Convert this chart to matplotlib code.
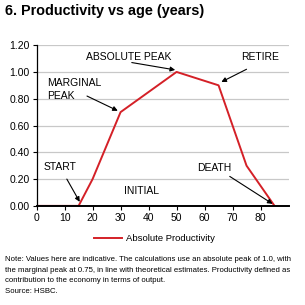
import matplotlib.pyplot as plt
import numpy as np

plt.rcParams['font.family'] = ['Liberation Sans', 'DejaVu Sans']

age = [0, 15, 20, 30, 50, 65, 75, 85]
productivity = [0.0, 0.0, 0.2, 0.7, 1.0, 0.9, 0.3, 0.0]
x_ticks = [0, 10, 20, 30, 40, 50, 60, 70, 80]
y_ticks = [0.0, 0.2, 0.4, 0.6, 0.8, 1.0, 1.2]

# label text, text position, arrow tail, arrow tip
labels = [
    ('ABSOLUTE PEAK', (33, 1.11), (34, 1.07), (49.5, 1.015)),
    ('RETIRE', (80, 1.11), (75, 1.02), (66, 0.925)),
    ('MARGINAL\nPEAK', (3.6, 0.87), (18, 0.82), (29, 0.71)),
    ('START', (8.4, 0.29), (10.8, 0.2), (15.4, 0.03)),
    ('DEATH', (63.6, 0.28), (69, 0.22), (84.3, 0.015)),
]

red = '#d42027'
fig = plt.figure(figsize=(3.05, 3.05), dpi=100)
ax = fig.add_axes([0.12, 0.325, 0.826, 0.527])

ax.plot(age, productivity, color=red, lw=1.4, label='Absolute Productivity')

ax.set_xlim(0, 90)
ax.set_ylim(0, 1.2)
ax.set_xticks(x_ticks)
ax.set_yticks(y_ticks)
ax.set_yticklabels([f'{v:.2f}' for v in y_ticks])
ax.tick_params(labelsize=7.5, length=3, width=0.8, color='black', pad=2)
ax.grid(axis='y', color='#c8c8c8', lw=0.9)
ax.set_axisbelow(True)
for s in ['top', 'right']:
    ax.spines[s].set_visible(False)
ax.spines['left'].set_linewidth(0.9)
ax.spines['bottom'].set_linewidth(1.4)

arrow = dict(arrowstyle='-|>', color='black', lw=0.8, mutation_scale=7,
             shrinkA=0, shrinkB=0)
fs = 7.5
for txt, pos, tail, tip in labels:
    ha = 'left' if '\n' in txt else 'center'
    ax.text(pos[0], pos[1], txt, fontsize=fs, ha=ha, va='center', linespacing=1.3)
    ax.annotate('', xy=tip, xytext=tail, arrowprops=arrow)
ax.text(37.3, 0.11, 'INITIAL', fontsize=fs, ha='center', va='center')

fig.text(0.016, 0.965, '6. Productivity vs age (years)', fontsize=10.4,
         fontweight='bold', va='center')

fig.legend(loc='center', bbox_to_anchor=(0.505, 0.217), frameon=False,
           fontsize=6.8, handlelength=3.0, handletextpad=0.4)

note = ('Note: Values here are indicative. The calculations use an absolute peak of 1.0, with\n'
        'the marginal peak at 0.75, in line with theoretical estimates. Productivity defined as\n'
        'contribution to the economy in terms of output.\n'
        'Source: HSBC.')
fig.text(0.015, 0.16, note, fontsize=5.6, va='top', linespacing=1.7)

fig.savefig('out.png', dpi=100)
